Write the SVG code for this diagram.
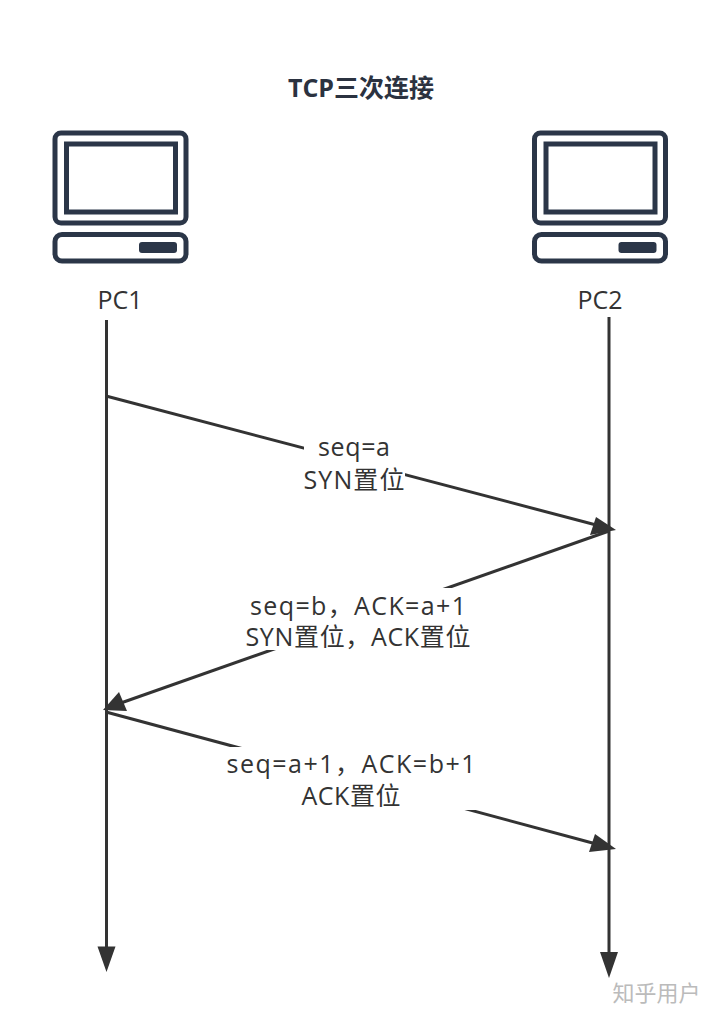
<svg xmlns="http://www.w3.org/2000/svg" width="720" height="1019" viewBox="0 0 720 1019">
<style>
.t{font-family:"Open Sans","Noto Sans CJK SC",sans-serif;font-size:25px;fill:#333;text-anchor:middle}
.b{font-weight:700;fill:#2b3240}
.o{fill:none;stroke:#2b3648;stroke-width:5}
.i{fill:none;stroke:#2b3648;stroke-width:5}
.l{stroke:#333;stroke-width:3;fill:none}
.h{fill:#333}
.g{fill:#fff}
</style>
<defs>
<g id="pc">
<rect class="o" x="55" y="133" width="131" height="90" rx="6"/>
<rect class="i" x="66.500" y="144" width="109" height="68"/>
<rect class="o" x="55" y="234.500" width="131" height="26.500" rx="7"/>
<rect x="139" y="242" width="38" height="11" rx="3" fill="#2b3648"/>
</g>
</defs>
<rect width="720" height="1019" fill="#fff"/>
<text id="title" class="t b" x="361" y="97">TCP三次连接</text>
<g id="pc1"><use href="#pc"/><text class="t" x="120" y="309">PC1</text></g>
<g id="pc2"><use href="#pc" x="479.500"/><text class="t" x="600" y="309">PC2</text></g>
<g id="connectors">
<path class="l" d="M106.500 320V950"/><path class="h" d="M97.500 946.500H115.500L106.500 972Z"/>
<path class="l" d="M609 317V953"/><path class="h" d="M600 952H618L609 978Z"/>
<path class="l" d="M106 396L600 526"/><path class="h" d="M616 530L590 535L596 517Z"/>
<path class="l" d="M609 531L118 704"/><path class="h" d="M103 710L119 692L127 711Z"/>
<path class="l" d="M106 712L600 845"/><path class="h" d="M616 849L589 852L595 834Z"/>
</g>
<g id="label1"><rect class="g" x="304" y="436" width="101" height="60"/><text class="t" x="354" y="456" textLength="72">seq=a</text><text class="t" x="354" y="489" textLength="101">SYN置位</text></g>
<g id="label2"><rect class="g" x="245" y="588" width="228" height="62"/><text class="t" x="358" y="615" textLength="216">seq=b，ACK=a+1</text><text class="t" x="358" y="646" textLength="225">SYN置位，ACK置位</text></g>
<g id="label3"><rect class="g" x="224" y="747" width="254" height="63"/><text class="t" x="351" y="773" textLength="249">seq=a+1，ACK=b+1</text><text class="t" x="351" y="805" textLength="99">ACK置位</text></g>
<text id="watermark" x="656.500" y="1001" text-anchor="middle" style="font-family:'Noto Sans CJK SC',sans-serif;font-size:22px;fill:#bbb">知乎用户</text>
</svg>
